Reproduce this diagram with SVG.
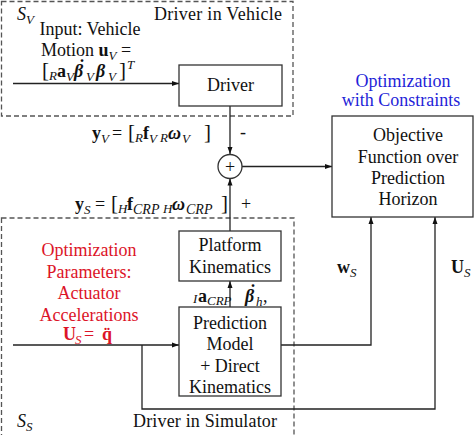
<svg xmlns="http://www.w3.org/2000/svg" width="474" height="435" viewBox="0 0 474 435">
<defs>
<marker id="ah" markerWidth="7" markerHeight="6" refX="7" refY="3" orient="auto" markerUnits="userSpaceOnUse"><path d="M0,0.5 L7,3 L0,5.5 z" fill="#111"/></marker>
</defs>
<style>
text{font-family:"Liberation Serif","Times New Roman",serif;font-size:18px;fill:#111}
.c{text-anchor:middle}
.box{fill:#fff;stroke:#333;stroke-width:1.3}
.dash{fill:none;stroke:#555;stroke-width:1.3;stroke-dasharray:5 3}
.ln{fill:none;stroke:#222;stroke-width:1.3}
.b{font-weight:bold}
.bi{font-weight:bold;font-style:italic}
.i{font-style:italic}
.s{font-size:13px;font-style:italic}
.s2{font-size:14px;font-style:italic}
.br{font-size:21px}
.red{fill:#dc1428}
.blue{fill:#1f1fd8}
</style>
<rect class="dash" x="1.5" y="1.5" width="291.5" height="114.5"/>
<rect class="dash" x="1.5" y="218" width="292.5" height="230"/>
<g id="connectors">
<line class="ln" x1="13" y1="83.5" x2="179" y2="83.5" marker-end="url(#ah)"/>
<line class="ln" x1="230" y1="106" x2="230" y2="154" marker-end="url(#ah)"/>
<line class="ln" x1="242" y1="166.5" x2="332" y2="166.5" marker-end="url(#ah)"/>
<line class="ln" x1="230" y1="231" x2="230" y2="178.5" marker-end="url(#ah)"/>
<line class="ln" x1="230" y1="307" x2="230" y2="281" marker-end="url(#ah)"/>
<line class="ln" x1="13" y1="345" x2="179" y2="345" marker-end="url(#ah)"/>
<polyline class="ln" points="142,345 142,409 435,409 435,217" marker-end="url(#ah)"/>
<polyline class="ln" points="281,345 371,345 371,217" marker-end="url(#ah)"/>
</g>
<g id="driver">
<rect class="box" x="179" y="65" width="103" height="41"/>
<text class="c" x="230.5" y="91">Driver</text>
</g>
<g id="sum">
<circle class="box" cx="230" cy="166.5" r="12"/>
<text class="c" x="230" y="172.5">+</text>
</g>
<g id="objective">
<rect class="box" x="332" y="116" width="141" height="101"/>
<text class="c" x="408" y="141">Objective</text>
<text class="c" x="408" y="163">Function over</text>
<text class="c" x="408" y="184">Prediction</text>
<text class="c" x="408" y="205">Horizon</text>
</g>
<g id="platform">
<rect class="box" x="179" y="231" width="102" height="50"/>
<text class="c" x="230" y="251">Platform</text>
<text class="c" x="230" y="273">Kinematics</text>
</g>
<g id="prediction">
<rect class="box" x="179" y="307" width="102" height="89"/>
<text class="c" x="230" y="329">Prediction</text>
<text class="c" x="230" y="350">Model</text>
<text class="c" x="230" y="372">+ Direct</text>
<text class="c" x="230" y="393">Kinematics</text>
</g>
<g id="labels">
<text class="i" x="17" y="20">S<tspan class="s" dy="4">V</tspan></text>
<text x="154" y="20" textLength="128" lengthAdjust="spacing">Driver in Vehicle</text>
<text class="c" x="90" y="35">Input: Vehicle</text>
<text x="41" y="56">Motion <tspan class="b">u</tspan><tspan class="s" dy="4">V</tspan><tspan dy="-4"> =</tspan></text>
<text y="77"><tspan x="42" class="br">[</tspan><tspan x="49" y="80" class="s">R</tspan><tspan x="57" y="77" class="b">a</tspan><tspan x="66" y="81" class="s">V</tspan><tspan x="74" y="77" class="bi">β</tspan><tspan x="79" y="72" class="b">˙</tspan><tspan x="86" y="81" class="s">V</tspan><tspan x="96" y="77" class="bi">β</tspan><tspan x="108" y="81" class="s">V</tspan><tspan x="119" y="77" class="br">]</tspan><tspan x="127" y="69" class="s">T</tspan></text>
<text class="blue c" x="403" y="87">Optimization</text>
<text class="blue c" x="401" y="106">with Constraints</text>
<text y="139"><tspan x="92" class="b">y</tspan><tspan x="101" y="143" class="s">V</tspan><tspan x="112" y="139">=</tspan><tspan x="128" class="br">[</tspan><tspan x="135" y="142" class="s">R</tspan><tspan x="143" y="139" class="b">f</tspan><tspan x="149" y="143" class="s">V</tspan><tspan x="160" y="142" class="s">R</tspan><tspan x="168" y="139" class="bi">ω</tspan><tspan x="182" y="143" class="s">V</tspan><tspan x="204" y="139" class="br">]</tspan></text>
<text class="c" x="243" y="138">-</text>
<text y="210"><tspan x="75" class="b">y</tspan><tspan x="84" y="214" class="s">S</tspan><tspan x="95" y="210">=</tspan><tspan x="111" class="br">[</tspan><tspan x="118" y="213" class="s">H</tspan><tspan x="127" y="210" class="b">f</tspan><tspan x="133" y="214" class="s2">CRP</tspan><tspan x="163" y="213" class="s">H</tspan><tspan x="172" y="210" class="bi">ω</tspan><tspan x="186" y="214" class="s2">CRP</tspan><tspan x="221" y="210" class="br">]</tspan></text>
<text class="c" x="246" y="210">+</text>
<text class="red c" x="89" y="256">Optimization</text>
<text class="red c" x="89" y="278">Parameters:</text>
<text class="red c" x="89" y="299">Actuator</text>
<text class="red c" x="89" y="321">Accelerations</text>
<text class="red" y="340"><tspan x="63" class="b">U</tspan><tspan x="75" y="344" class="s">S</tspan><tspan x="84" y="340">=</tspan><tspan x="102" class="b">q̈</tspan></text>
<text y="302"><tspan x="193" y="303" class="s">I</tspan><tspan x="198" y="302" class="b">a</tspan><tspan x="207" y="305" class="s">CRP</tspan></text>
<text y="302"><tspan x="245" class="bi">β</tspan><tspan x="250" y="297" class="b">˙</tspan><tspan x="256" y="306" class="s">h</tspan><tspan x="263" y="302">,</tspan></text>
<text x="337" y="273"><tspan class="b">w</tspan><tspan class="s" dy="4">S</tspan></text>
<text x="451" y="273"><tspan class="b">U</tspan><tspan class="s" dy="4">S</tspan></text>
<text class="i" x="17" y="427">S<tspan class="s" dy="4">S</tspan></text>
<text x="133" y="427" textLength="144" lengthAdjust="spacing">Driver in Simulator</text>
</g>
</svg>
